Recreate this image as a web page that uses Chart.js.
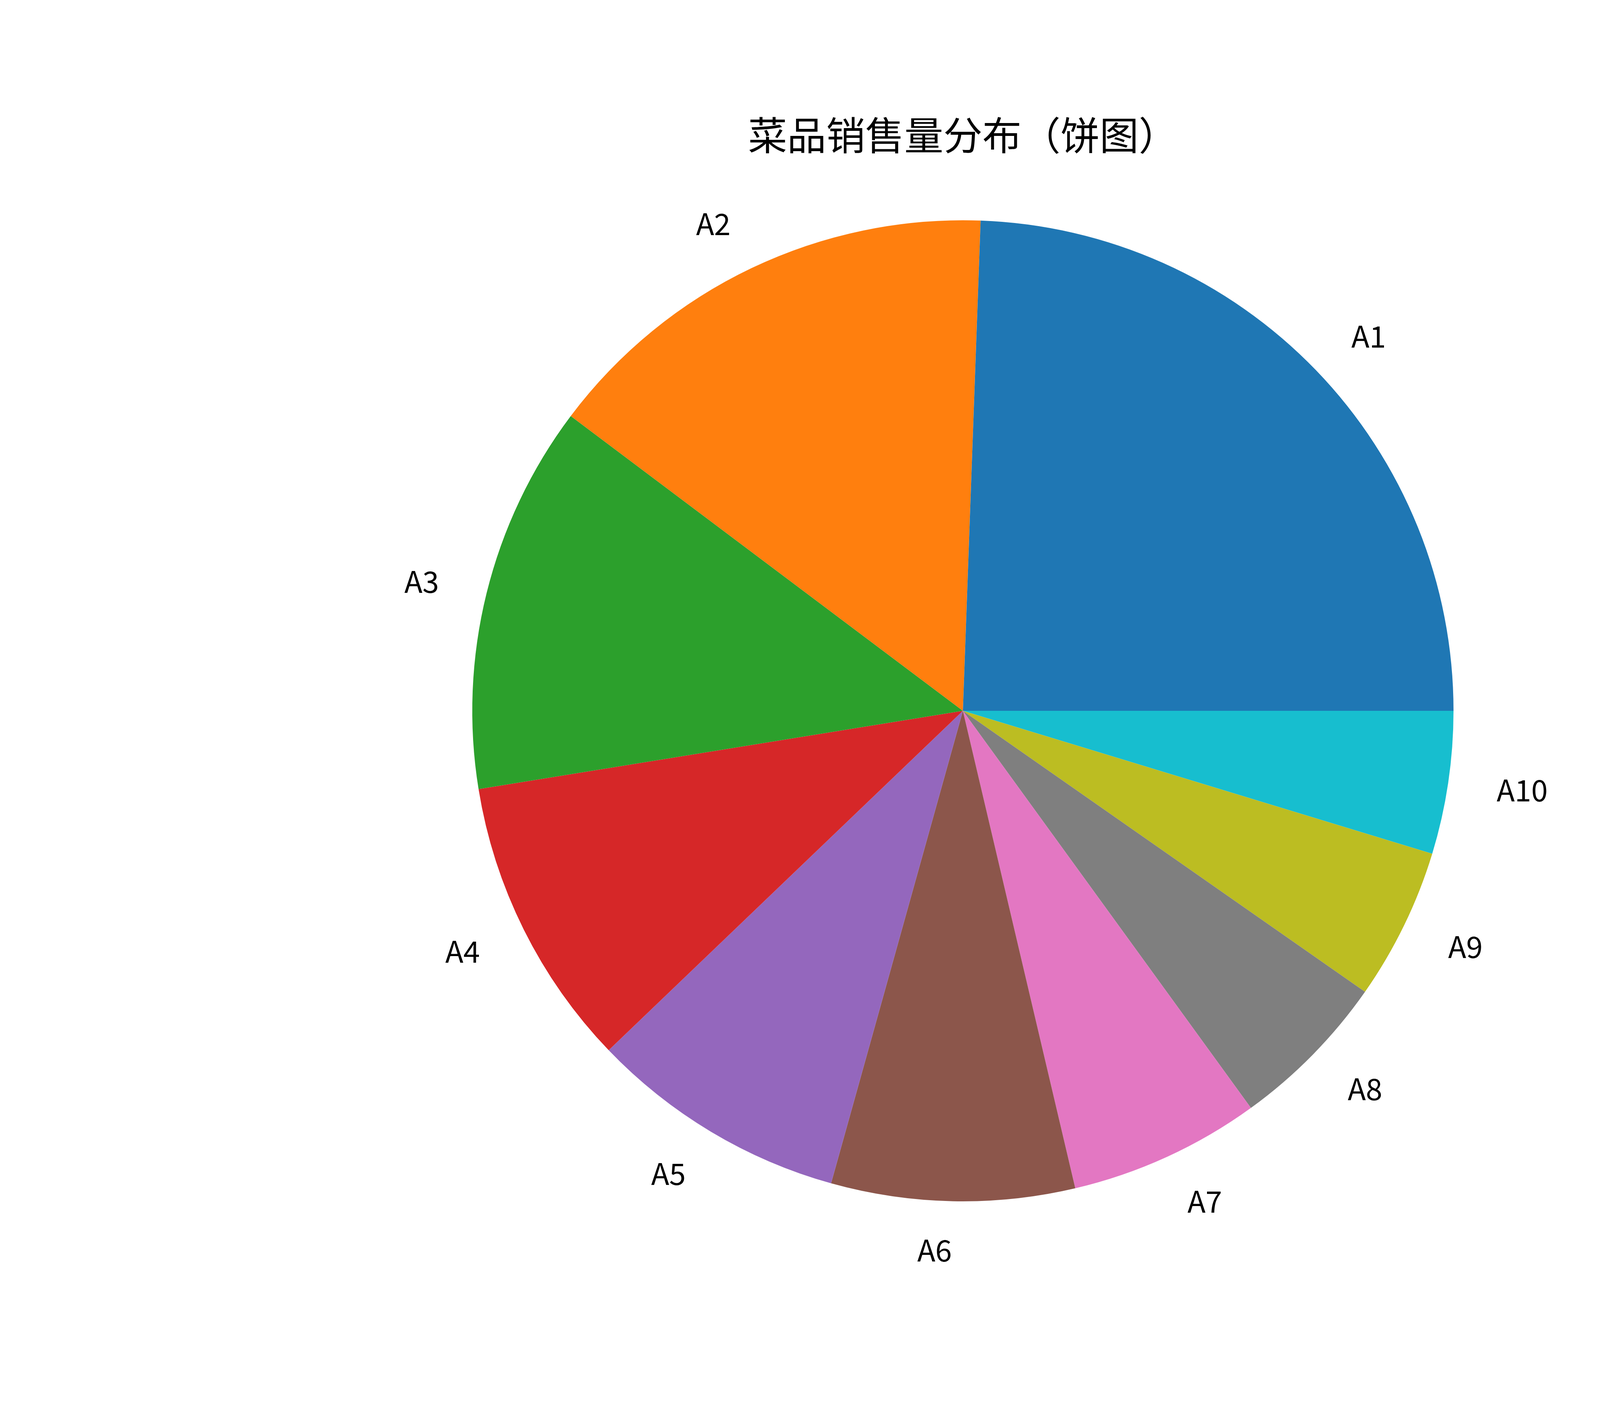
<!DOCTYPE html>
<html>
<head>
<meta charset="utf-8">
<title>菜品销售量分布（饼图）</title>
<script src="https://cdn.jsdelivr.net/npm/chart.js@4/dist/chart.umd.min.js"></script>
<style>
  html, body { margin: 0; padding: 0; background: #ffffff; }
  #pie_plot { display: block; width: 4800px; height: 3600px; }
</style>
</head>
<body>
<canvas id="pie_plot" width="4800" height="3600"></canvas>
<script>
'use strict';

const dishes = ['A1', 'A2', 'A3', 'A4', 'A5', 'A6', 'A7', 'A8', 'A9', 'A10'];
const sales = [244, 153, 128, 96, 85, 80, 63, 53, 50, 47];
const sliceColors = ['#1f77b4', '#ff7f0e', '#2ca02c', '#d62728', '#9467bd',
                     '#8c564b', '#e377c2', '#7f7f7f', '#bcbd22', '#17becf'];
const chartTitle = '菜品销售量分布（饼图）';

// matplotlib draws counter-clockwise from 3 o'clock, chart.js clockwise,
// so feed the slices in reverse and start at 90 degrees
const labelsRev = dishes.slice().reverse();
const salesRev = sales.slice().reverse();
const colorsRev = sliceColors.slice().reverse();

const pieText = {
    id: 'pieText',
    afterDraw: function (chart) {
        const ctx = chart.ctx;
        const area = chart.chartArea;
        const meta = chart.getDatasetMeta(0);

        ctx.save();
        ctx.fillStyle = '#000000';

        // title
        ctx.font = '100px "Noto Sans CJK SC", sans-serif';
        ctx.textAlign = 'center';
        ctx.textBaseline = 'alphabetic';
        ctx.fillText(chartTitle, (area.left + area.right) / 2, 384);

        // slice labels at 1.1 x radius
        ctx.font = '76px "Noto Sans CJK SC", sans-serif';
        ctx.textBaseline = 'middle';
        meta.data.forEach(function (arc, i) {
            const p = arc.getProps(['x', 'y', 'startAngle', 'endAngle', 'outerRadius'], true);
            const mid = (p.startAngle + p.endAngle) / 2;
            const r = p.outerRadius * 1.1;
            const lx = p.x + r * Math.cos(mid);
            const ly = p.y + r * Math.sin(mid);
            ctx.textAlign = Math.cos(mid) > 0 ? 'left' : 'right';
            ctx.fillText(chart.data.labels[i], lx, ly);
        });
        ctx.restore();
    }
};

new Chart(document.getElementById('pie_plot').getContext('2d'), {
    type: 'pie',
    data: {
        labels: labelsRev,
        datasets: [{
            data: salesRev,
            backgroundColor: colorsRev,
            borderWidth: 0,
            hoverOffset: 0
        }]
    },
    options: {
        responsive: false,
        devicePixelRatio: 1,
        animation: false,
        rotation: 90,
        layout: {
            padding: { left: 1209, right: 1079, top: 564, bottom: 524 }
        },
        plugins: {
            legend: { display: false },
            title: { display: false },
            tooltip: { enabled: false }
        }
    },
    plugins: [pieText]
});
</script>
</body>
</html>
